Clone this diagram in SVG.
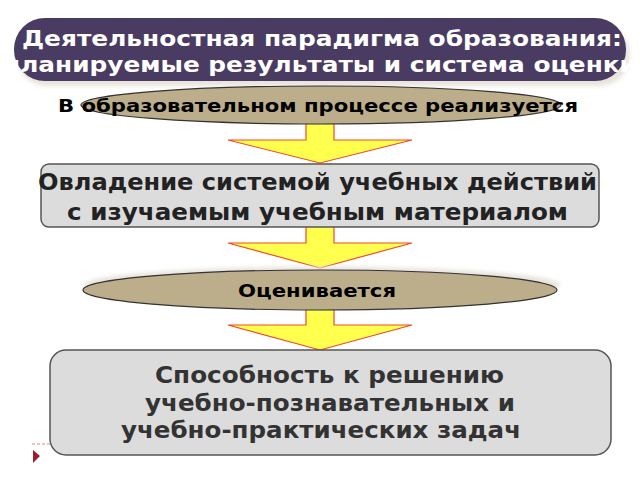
<svg xmlns="http://www.w3.org/2000/svg" width="640" height="480" viewBox="0 0 640 480">
<defs>
<style>
.t{font-family:"DejaVu Sans","Noto Sans",sans-serif;font-weight:bold}
.arrow{fill:#ffff4d;stroke:#f04a2a;stroke-width:1.2;stroke-linejoin:miter}
.ell{fill:#bcae8a;stroke:#333;stroke-width:1.2}
.box{fill:#dcdcdc;stroke:#555;stroke-width:1.5}
</style>
<filter id="blur" x="-10%" y="-50%" width="120%" height="200%"><feGaussianBlur stdDeviation="2"/></filter>
</defs>
<rect width="640" height="480" fill="#fff"/>
<g id="title">
<rect x="16" y="24" width="614" height="62" rx="31" fill="#e8e4dc" filter="url(#blur)"/>
<rect x="14" y="18" width="612" height="63" rx="31" fill="#4a3b63"/>
<text class="t" x="22" y="46" font-size="22" fill="#fff" textLength="600" lengthAdjust="spacingAndGlyphs">Деятельностная парадигма образования:</text>
<text class="t" x="3" y="72" font-size="22" fill="#fff" textLength="634" lengthAdjust="spacingAndGlyphs">планируемые результаты и система оценки</text>
</g>
<g id="connectors">
<path class="arrow" d="M306,118 H334 V140 H412 L320,163 L228,140 H306 Z"/>
<path class="arrow" d="M306,226 H334 V243 H412 L320,268 L228,243 H306 Z"/>
<path class="arrow" d="M306,306 H334 V325 H412 L320,350 L228,325 H306 Z"/>
</g>
<g id="ellipse1">
<ellipse class="ell" cx="321" cy="105" rx="240" ry="19"/>
<text class="t" x="58" y="112" font-size="18" fill="#000" textLength="520" lengthAdjust="spacingAndGlyphs">В образовательном процессе реализуется</text>
</g>
<g id="box1">
<rect class="box" x="41" y="164" width="558" height="63" rx="8"/>
<text class="t" x="38" y="190" font-size="23" fill="#222" textLength="559" lengthAdjust="spacingAndGlyphs">Овладение системой учебных действий</text>
<text class="t" x="67" y="220" font-size="23" fill="#222" textLength="501" lengthAdjust="spacingAndGlyphs">с изучаемым учебным материалом</text>
</g>
<g id="ellipse2">
<ellipse cx="322" cy="285" rx="238" ry="18" fill="#e6e2da" filter="url(#blur)"/>
<ellipse class="ell" cx="320" cy="290" rx="237" ry="20"/>
<text class="t" x="238" y="297" font-size="18" fill="#000" textLength="158" lengthAdjust="spacingAndGlyphs">Оценивается</text>
</g>
<g id="box2">
<rect class="box" x="50" y="350" width="561" height="105" rx="16"/>
<text class="t" x="155" y="383" font-size="23" fill="#333" textLength="349" lengthAdjust="spacingAndGlyphs">Способность к решению</text>
<text class="t" x="145" y="411" font-size="23" fill="#333" textLength="370" lengthAdjust="spacingAndGlyphs">учебно-познавательных и</text>
<text class="t" x="121" y="438" font-size="23" fill="#333" textLength="400" lengthAdjust="spacingAndGlyphs">учебно-практических задач</text>
</g>
<g id="marker">
<line x1="32" y1="444" x2="50" y2="444" stroke="#d88" stroke-width="1" stroke-dasharray="3,2"/>
<path d="M33,450 L40,456 L33,463 Z" fill="#a01c2c"/>
</g>
</svg>
